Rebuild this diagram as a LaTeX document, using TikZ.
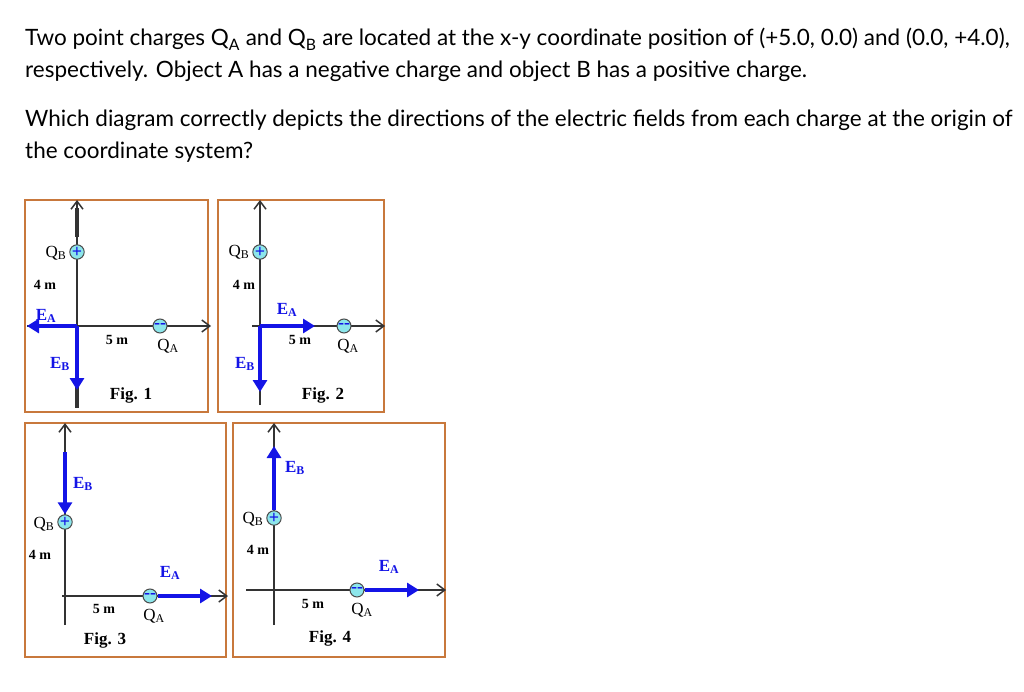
\documentclass[tikz,border=0pt]{standalone}
\usepackage{fontspec}
\setmainfont{Lato}
\newfontfamily\figfont{Liberation Serif}
\usetikzlibrary{arrows.meta}
\definecolor{boxc}{RGB}{200,120,60}
\definecolor{ef}{RGB}{20,20,230}
\definecolor{chg}{RGB}{140,230,235}
\tikzset{
 panel/.style={draw=boxc,line width=1.2pt},
 axis/.style={draw=black!80,line width=1.3pt,-{Straight Barb[length=8pt,width=12pt,line width=1.5pt]}},
 field/.style={draw=ef,line width=3.2pt,-{Triangle[length=12pt,width=14pt]}},
 charge/.style={circle,draw=black!70,fill=chg,minimum size=14pt,inner sep=0pt,line width=1pt,font=\figfont\bfseries\fontsize{18}{18}\selectfont},
 lab/.style={font=\figfont\fontsize{17}{17}\selectfont},
 blab/.style={font=\figfont\bfseries\fontsize{17}{17}\selectfont,text=ef},
 dist/.style={font=\figfont\bfseries\fontsize{14}{14}\selectfont},
 figl/.style={font=\figfont\bfseries\fontsize{17}{17}\selectfont},
 txt/.style={anchor=base west,inner sep=0pt,font=\fontsize{22.5}{22.5}\selectfont},
}
\begin{document}
\begin{tikzpicture}[x=1pt,y=-1pt]
\useasboundingbox (0,0) rectangle (1024,692);
\node[txt] (t1) at (25,46) {Two point charges Q\textsubscript{A} and Q\textsubscript{B} are located at the x-y coordinate position of (+5.0, 0.0) and (0.0, +4.0),};
\node[txt] (t2) at (25,78) {respectively. Object A has a negative charge and object B has a positive charge.};
\node[txt] (t3) at (25,127) {Which diagram correctly depicts the directions of the electric fields from each charge at the origin of};
\node[txt] (t4) at (25,159) {the coordinate system?};

% Fig 1
\draw[panel] (25,200) rectangle (208,412);
\coordinate (o1) at (77,326);
\coordinate (y1b) at (77,408); \coordinate (y1t) at (77,200);
\coordinate (x1l) at (27,326); \coordinate (x1r) at (211,326);
\draw[axis] (y1b) -- (y1t);
\draw[line width=3.2pt,black!80] (77,208) -- (77,237) (77,385) -- (y1b);
\draw[axis] (x1l) -- (x1r);
\node[charge] (qb1) at (77,252) {\textcolor{ef}{+}};
\node[charge] (qa1) at (160,326) {\textcolor{ef}{--}};
\draw[field] (o1) -- (x1l);
\draw[field] (o1) -- (77,390);
\node[lab] (lqb1) at (56,253) {Q\textsubscript{B}};
\node[lab] (lqa1) at (168,346) {Q\textsubscript{A}};
\node[dist] (d41) at (45,285) {4 m};
\node[dist] (d51) at (117,340) {5 m};
\node[blab] (ea1) at (46,316) {E\textsubscript{A}};
\node[blab] (eb1) at (60,364) {E\textsubscript{B}};
\node[figl] (f1) at (131,395) {Fig. 1};

% Fig 2
\draw[panel] (218,200) rectangle (384,412);
\coordinate (o2) at (260,326);
\draw[axis] (260,405) -- (260,200);
\draw[axis] (252,326) -- (385,326);
\node[charge] (qb2) at (260,252) {\textcolor{ef}{+}};
\node[charge] (qa2) at (344,326) {\textcolor{ef}{--}};
\draw[field] (o2) -- (315,326);
\draw[field] (o2) -- (260,392);
\node[lab] (lqb2) at (239,252) {Q\textsubscript{B}};
\node[lab] (lqa2) at (348,346) {Q\textsubscript{A}};
\node[dist] (d42) at (244,285) {4 m};
\node[dist] (d52) at (300,340) {5 m};
\node[blab] (ea2) at (287,310) {E\textsubscript{A}};
\node[blab] (eb2) at (245,364) {E\textsubscript{B}};
\node[figl] (f2) at (323,395) {Fig. 2};

% Fig 3
\draw[panel] (25,423) rectangle (226,657);
\coordinate (o3) at (65,596);
\draw[axis] (65,625) -- (65,423);
\draw[axis] (62,596) -- (228,596);
\node[charge] (qb3) at (65,522) {\textcolor{ef}{+}};
\node[charge] (qa3) at (150,596) {\textcolor{ef}{--}};
\draw[field] (65,452) -- (qb3.north);
\draw[field] (qa3.east) -- (212,596);
\node[lab] (lqb3) at (44,524) {Q\textsubscript{B}};
\node[lab] (lqa3) at (154,616) {Q\textsubscript{A}};
\node[dist] (d43) at (40,555) {4 m};
\node[dist] (d53) at (104,609) {5 m};
\node[blab] (ea3) at (170,573) {E\textsubscript{A}};
\node[blab] (eb3) at (83,484) {E\textsubscript{B}};
\node[figl] (f3) at (105,640) {Fig. 3};

% Fig 4
\draw[panel] (233,423) rectangle (445,657);
\coordinate (o4) at (274,590);
\draw[axis] (274,625) -- (274,423);
\draw[axis] (246,590) -- (446,590);
\node[charge] (qb4) at (274,518) {\textcolor{ef}{+}};
\node[charge] (qa4) at (357,590) {\textcolor{ef}{--}};
\draw[field] (qb4.north) -- (274,446);
\draw[field] (qa4.east) -- (419,590);
\node[lab] (lqb4) at (253,519) {Q\textsubscript{B}};
\node[lab] (lqa4) at (362,610) {Q\textsubscript{A}};
\node[dist] (d44) at (258,550) {4 m};
\node[dist] (d54) at (313,604) {5 m};
\node[blab] (ea4) at (389,567) {E\textsubscript{A}};
\node[blab] (eb4) at (295,468) {E\textsubscript{B}};
\node[figl] (f4) at (330,638) {Fig. 4};
\end{tikzpicture}
\end{document}
